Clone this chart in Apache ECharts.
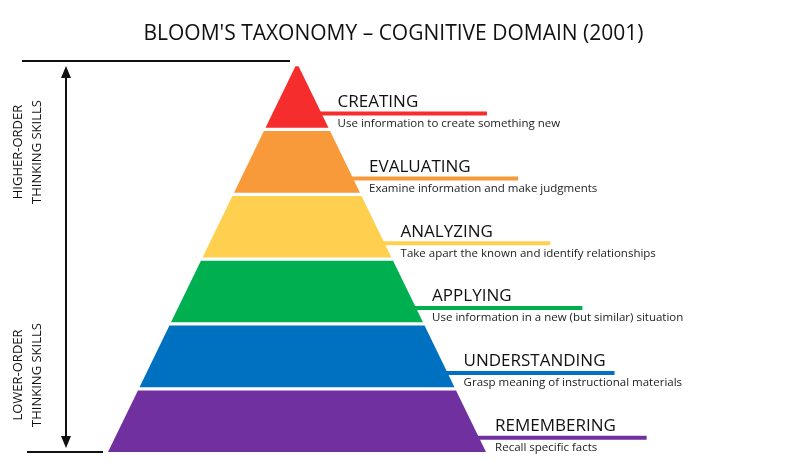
<!DOCTYPE html>
<html><head><meta charset="utf-8">
<script src="https://cdn.jsdelivr.net/npm/echarts@6/dist/echarts.min.js"></script>
<style>html,body{margin:0;padding:0;background:#fff}#c{width:787px;height:476px}</style>
</head><body><div id="c"></div>
<script>
const levels = ['REMEMBERING','UNDERSTANDING','APPLYING','ANALYZING','EVALUATING','CREATING'];
const descriptions = ['Recall specific facts','Grasp meaning of instructional materials','Use information in a new (but similar) situation','Take apart the known and identify relationships','Examine information and make judgments','Use information to create something new'];
const colors = ['#7030a0','#0070c0','#00b050','#ffd050','#f99a3a','#f52d2d'];
const lineEnds = [1.85,1.68,1.51,1.34,1.17,1.005];
const GAP = 0.05, N = 6;
const chart = echarts.init(document.getElementById('c'));
const data = levels.map((n,i)=>[i, lineEnds[i]]);
chart.setOption({
  animation:false,
  grid:{left:108,width:378,top:63,height:389},
  xAxis:{type:'value',min:-1,max:1,show:false},
  yAxis:{type:'value',min:0,max:N,show:false},
  series:[{
    type:'custom',
    data:data,
    clip:false,
    renderItem:function(params,api){
      const i = api.value(0), end = api.value(1);
      const hw = y => (N-y)/N;
      const y0 = i, y1 = i+1-GAP;
      const pts = [api.coord([-hw(y0),y0]),api.coord([hw(y0),y0]),api.coord([hw(y1),y1]),api.coord([-hw(y1),y1])];
      const yl = i + 0.22;
      const p0 = api.coord([hw(yl),yl]), p1 = api.coord([end,yl]);
      const tx = p0[0] + 16;
      return {type:'group',children:[
        {type:'polygon',shape:{points:pts},style:{fill:colors[i]}},
        {type:'line',shape:{x1:p0[0]-2,y1:p0[1],x2:p1[0],y2:p1[1]},style:{stroke:colors[i],lineWidth:4}},
        {type:'text',style:{x:tx,y:p0[1]-3,text:levels[i],fill:'#111',font:'17px "Open Sans"',textVerticalAlign:'bottom'}},
        {type:'text',style:{x:tx,y:p0[1]+4,text:descriptions[i],fill:'#222',font:'11.5px "Open Sans"',textVerticalAlign:'top'}}
      ]};
    }
  }],
  graphic:[
    {type:'text',left:'center',top:24,style:{text:"BLOOM'S TAXONOMY – COGNITIVE DOMAIN (2001)",fill:'#111',font:'21px "Open Sans"'}},
    {type:'line',shape:{x1:22,y1:61,x2:290,y2:61},style:{stroke:'#111',lineWidth:2}},
    {type:'line',shape:{x1:27,y1:452,x2:103,y2:452},style:{stroke:'#111',lineWidth:2}},
    {type:'line',shape:{x1:66,y1:72,x2:66,y2:442},style:{stroke:'#111',lineWidth:2}},
    {type:'polygon',shape:{points:[[66,66],[61,78],[71,78]]},style:{fill:'#111'}},
    {type:'polygon',shape:{points:[[66,448],[61,436],[71,436]]},style:{fill:'#111'}},
    {type:'text',x:28,y:152,rotation:Math.PI/2,style:{text:'HIGHER-ORDER\nTHINKING SKILLS',fill:'#111',font:'13px "Open Sans"',align:'center',verticalAlign:'middle',lineHeight:19}},
    {type:'text',x:28,y:375,rotation:Math.PI/2,style:{text:'LOWER-ORDER\nTHINKING SKILLS',fill:'#111',font:'13px "Open Sans"',align:'center',verticalAlign:'middle',lineHeight:19}}
  ]
});
</script></body></html>
